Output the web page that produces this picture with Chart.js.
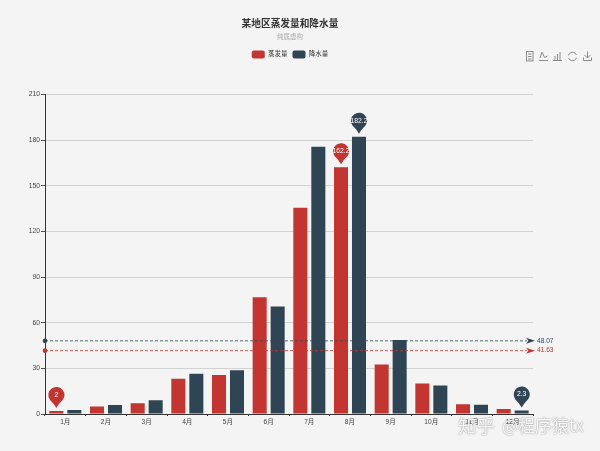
<!DOCTYPE html>
<html>
<head>
<meta charset="utf-8">
<style>
  html, body { margin: 0; padding: 0; background: #f4f4f4; }
  canvas { display: block; }
</style>
<script src="https://cdn.jsdelivr.net/npm/chart.js@4/dist/chart.umd.js"></script>
</head>
<body>
<canvas id="barChart" width="600" height="451"></canvas>
<script>
const months = ["1月", "2月", "3月", "4月", "5月", "6月", "7月", "8月", "9月", "10月", "11月", "12月"];
const evaporation = [2.0, 4.9, 7.0, 23.2, 25.6, 76.7, 135.6, 162.2, 32.6, 20.0, 6.4, 3.3];
const rainfall = [2.6, 5.9, 9.0, 26.4, 28.7, 70.7, 175.6, 182.2, 48.7, 18.8, 6.0, 2.3];
const evaporationAvg = 41.63;
const rainfallAvg = 48.07;
const evaporationPins = [0, 7]; // month index of min and max
const rainfallPins = [11, 7];

const RED = "#c23531";
const BLUE = "#2f4554";
const FONT = '"Liberation Sans", "Noto Sans CJK SC", sans-serif';

function drawPin(ctx, x, y, color, text) {
  const cy = y - 16;
  ctx.fillStyle = color;
  ctx.beginPath();
  ctx.arc(x, cy, 8, Math.PI * 0.8, Math.PI * 0.2);
  ctx.quadraticCurveTo(x + 2, y - 7, x, y - 3);
  ctx.quadraticCurveTo(x - 2, y - 7, x - 6.5, cy + 4.7);
  ctx.fill();
  ctx.fillStyle = "#fff";
  ctx.font = "6.8px " + FONT;
  ctx.textAlign = "center";
  ctx.textBaseline = "middle";
  ctx.fillText(text, x, cy);
}

function drawAvgLine(ctx, area, y, color, value) {
  ctx.strokeStyle = color;
  ctx.fillStyle = color;
  ctx.lineWidth = 0.8;
  ctx.setLineDash([3, 2]);
  ctx.beginPath();
  ctx.moveTo(area.left, y);
  ctx.lineTo(area.right - 6, y);
  ctx.stroke();
  ctx.setLineDash([]);
  ctx.beginPath();
  ctx.arc(area.left, y, 2.3, 0, Math.PI * 2);
  ctx.fill();
  // arrow head
  const x = area.right + 2;
  ctx.beginPath();
  ctx.moveTo(x, y);
  ctx.lineTo(x - 9, y - 3);
  ctx.lineTo(x - 6.5, y);
  ctx.lineTo(x - 9, y + 3);
  ctx.closePath();
  ctx.fill();
  ctx.font = "6.6px " + FONT;
  ctx.textAlign = "left";
  ctx.textBaseline = "middle";
  ctx.fillText(value, x + 2, y);
}

function drawToolbox(ctx) {
  ctx.save();
  ctx.strokeStyle = "#8a8a8a";
  ctx.lineWidth = 1;
  // data view
  ctx.strokeRect(526.5, 51.5, 6.5, 9.5);
  ctx.beginPath();
  ctx.moveTo(528, 54); ctx.lineTo(531.5, 54);
  ctx.moveTo(528, 56.5); ctx.lineTo(531.5, 56.5);
  ctx.moveTo(528, 59); ctx.lineTo(531.5, 59);
  // line
  ctx.moveTo(539, 60.5); ctx.lineTo(548, 60.5);
  ctx.moveTo(540, 58); ctx.lineTo(542, 52); ctx.lineTo(544.5, 57.5); ctx.lineTo(547.5, 56);
  // bar
  ctx.moveTo(553, 60.5); ctx.lineTo(562, 60.5);
  ctx.moveTo(555, 60); ctx.lineTo(555, 56);
  ctx.moveTo(557.5, 60); ctx.lineTo(557.5, 54);
  ctx.moveTo(560, 60); ctx.lineTo(560, 52);
  ctx.stroke();
  // restore
  ctx.beginPath();
  ctx.arc(572.5, 56.5, 4.2, 0.3, 2.8);
  ctx.stroke();
  ctx.beginPath();
  ctx.arc(572.5, 56.5, 4.2, 3.4, 5.9);
  ctx.stroke();
  // save
  ctx.beginPath();
  ctx.moveTo(587.5, 51.5); ctx.lineTo(587.5, 58);
  ctx.moveTo(584.5, 55); ctx.lineTo(587.5, 58); ctx.lineTo(590.5, 55);
  ctx.moveTo(583.5, 57.5); ctx.lineTo(583.5, 60.5); ctx.lineTo(591.5, 60.5); ctx.lineTo(591.5, 57.5);
  ctx.stroke();
  ctx.restore();
}

function drawWatermark(ctx) {
  ctx.save();
  ctx.textAlign = "left";
  ctx.textBaseline = "middle";
  ctx.shadowColor = "rgba(80,80,80,0.85)";
  ctx.shadowBlur = 1.5;
  ctx.fillStyle = "rgba(255,255,255,0.9)";
  ctx.font = '18.5px "Noto Sans CJK SC", sans-serif';
  ctx.fillText("知乎", 458, 426);
  ctx.font = '17px "Noto Sans CJK SC", sans-serif';
  ctx.fillText("@程序猿tx", 502, 426);
  ctx.restore();
}

const extras = {
  id: "extras",
  afterDatasetsDraw(chart) {
    const { ctx, chartArea, scales } = chart;
    ctx.save();
    drawAvgLine(ctx, chartArea, scales.y.getPixelForValue(rainfallAvg), BLUE, String(rainfallAvg));
    drawAvgLine(ctx, chartArea, scales.y.getPixelForValue(evaporationAvg), RED, String(evaporationAvg));
    const series = [[evaporation, evaporationPins, RED], [rainfall, rainfallPins, BLUE]];
    series.forEach(([values, pins, color], i) => {
      const bars = chart.getDatasetMeta(i).data;
      pins.forEach((idx) => {
        drawPin(ctx, bars[idx].x, scales.y.getPixelForValue(values[idx]), color, String(values[idx]));
      });
    });
    ctx.restore();
    drawToolbox(ctx);
    drawWatermark(ctx);
  },
};

// empty axes, only there to hold space around the plot
const spacer = (position, fit) => ({
  type: "linear",
  position,
  afterFit: fit,
  grid: { display: false },
  border: { display: false },
  ticks: { display: false },
});

new Chart(document.getElementById("barChart"), {
  type: "bar",
  data: {
    labels: months,
    datasets: [
      { label: "蒸发量", data: evaporation, backgroundColor: RED, xAxisID: "x", yAxisID: "y" },
      { label: "降水量", data: rainfall, backgroundColor: BLUE, xAxisID: "x", yAxisID: "y" },
    ],
  },
  options: {
    responsive: false,
    animation: false,
    devicePixelRatio: 1,
    layout: { padding: { left: 0, right: 20, bottom: 0, top: 0 } },
    categoryPercentage: 0.885,
    barPercentage: 0.78,
    scales: {
      x: {
        afterFit: (s) => { s.height = 37; },
        grid: { offset: true, drawOnChartArea: false, tickColor: "#333", tickLength: 2 },
        border: { color: "#333" },
        ticks: { color: "#444", font: { size: 6.6, family: FONT }, padding: 2, autoSkip: false, maxRotation: 0 },
      },
      y: {
        min: 0,
        max: 210,
        afterFit: (s) => { s.width = 45; },
        grid: { color: "#d2d2d2", tickColor: "#555", tickLength: 4 },
        border: { color: "#333" },
        ticks: { stepSize: 30, color: "#444", font: { size: 6.7, family: FONT }, padding: 1 },
      },
      xTop: spacer("top", (s) => { s.height = 26; }),
      yRight: spacer("right", (s) => { s.width = 47; }),
    },
    plugins: {
      tooltip: { enabled: false },
      title: {
        display: true,
        text: "某地区蒸发量和降水量",
        color: "#333",
        font: { size: 9.7, weight: "bold", family: FONT },
        padding: { top: 19, bottom: 1 },
      },
      subtitle: {
        display: true,
        text: "纯属虚构",
        color: "#aaa",
        font: { size: 6.5, family: FONT },
        padding: { top: 2, bottom: 4 },
      },
      legend: {
        labels: {
          boxWidth: 13,
          boxHeight: 8,
          useBorderRadius: true,
          borderRadius: 2,
          color: "#333",
          padding: 5,
          font: { size: 6.5, family: FONT },
        },
      },
    },
  },
  plugins: [extras],
});
</script>
</body>
</html>
